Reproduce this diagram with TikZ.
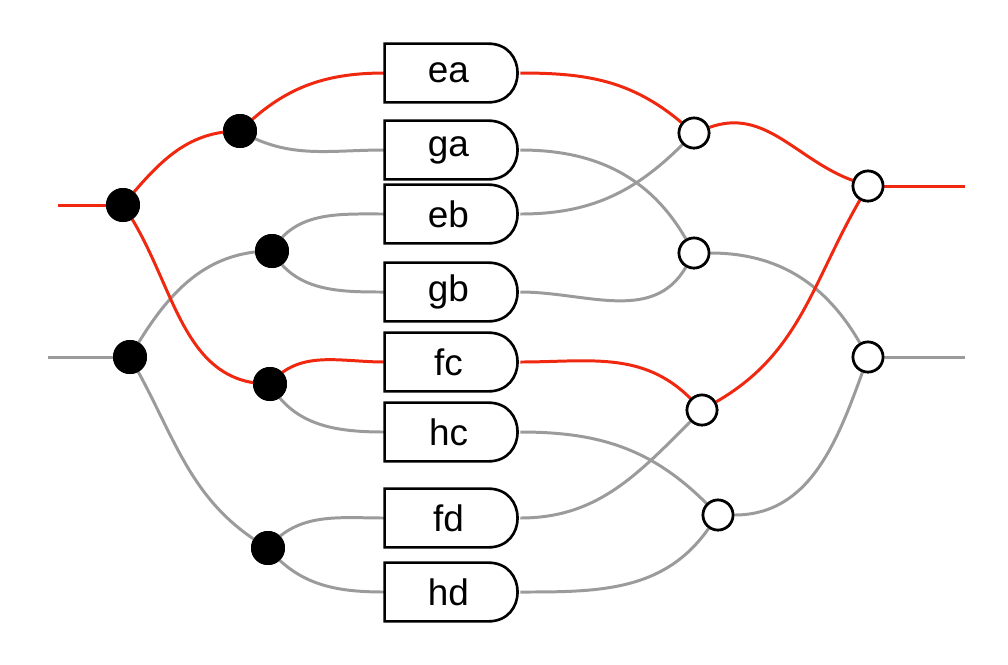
\documentclass[tikz,border=0pt]{standalone}
\usepackage{fontspec}
\setmainfont{Liberation Sans}
\definecolor{wred}{RGB}{240,40,16}
\definecolor{wgray}{RGB}{155,155,155}
\begin{document}
\begin{tikzpicture}[x=0.02cm,y=-0.02cm,
  gate/.style={minimum width=2.64cm,minimum height=1.16cm,inner sep=0pt},
  lbl/.style={font=\fontsize{21}{24}\selectfont},
  blk/.style={circle,fill=black,minimum size=0.68cm,inner sep=0pt},
  wht/.style={circle,draw=black,fill=white,line width=1.5pt,minimum size=0.6cm,inner sep=0pt},
  gw/.style={draw=wgray,line width=1.7pt},
  rw/.style={draw=wred,line width=1.7pt}]
\useasboundingbox (0,0) rectangle (1008,664);
\coordinate (inR) at (58,205); \coordinate (inG) at (48,357);
\coordinate (outR) at (965,186); \coordinate (outG) at (965,357);
\node[gate] (ea) at (451,73) {};
\node[gate] (ga) at (451,150) {};
\node[gate] (eb) at (451,214) {};
\node[gate] (gb) at (451,292) {};
\node[gate] (fc) at (451,362) {};
\node[gate] (hc) at (451,432) {};
\node[gate] (fd) at (451,518) {};
\node[gate] (hd) at (451,592) {};
\node[blk] (d1) at (123,205) {};
\node[blk] (d2) at (130,357) {};
\node[blk] (a1) at (240,131) {};
\node[blk] (a2) at (272,251) {};
\node[blk] (a3) at (270,384) {};
\node[blk] (a4) at (268,548) {};
% gray wires
\draw[gw] (inG) -- (d2.center);
\draw[gw] (d2.center) to[out=60,in=180] (a2.center);
\draw[gw] (d2.center) to[out=-60,in=150] (a4.center);
\draw[gw] (a1.center) to[out=-30,in=180] (ga.west);
\draw[gw] (a2.center) to[out=60,in=180] (eb.west);
\draw[gw] (a2.center) to[out=-60,in=180] (gb.west);
\draw[gw] (a3.center) to[out=-60,in=180] (hc.west);
\draw[gw] (a4.center) to[out=50,in=180] (fd.west);
\draw[gw] (a4.center) to[out=-50,in=180] (hd.west);
% red wires
\draw[rw] (inR) -- (d1.center);
\draw[rw] (d1.center) to[out=50,in=180] (a1.center);
\draw[rw] (d1.center) to[out=-55,in=180] (a3.center);
\draw[rw] (a1.center) to[out=45,in=180] (ea.west);
\draw[rw] (a3.center) to[out=50,in=180] (fc.west);
\foreach \d in {d1,d2,a1,a2,a3,a4} \node[blk] at (\d) {};
\foreach \n in {ea,ga,eb,gb,fc,hc,fd,hd}
  \draw[line width=1.5pt,fill=white] (\n.north west) -- ([xshift=-0.58cm]\n.north east)
    .. controls ([xshift=0.2cm]\n.north east) and ([xshift=0.2cm]\n.south east) .. ([xshift=-0.58cm]\n.south east)
    -- (\n.south west) -- cycle;
\foreach \n in {ea,ga,eb,gb,fc,hc,fd,hd}
  \node[lbl] at ([xshift=-0.05cm]\n.center) {\n};
\node[wht] (c1) at (694,133) {};
\node[wht] (c2) at (694,253) {};
\node[wht] (c3) at (702,410) {};
\node[wht] (c4) at (718,515) {};
\node[wht] (c5) at (868,186) {};
\node[wht] (c6) at (868,357) {};
\draw[gw] ([xshift=0.06cm]eb.east) to[out=0,in=225] (c1);
\draw[gw] ([xshift=0.06cm]ga.east) to[out=0,in=120] (c2);
\draw[gw] ([xshift=0.06cm]gb.east) to[out=0,in=240] (c2);
\draw[gw] ([xshift=0.06cm]fd.east) to[out=0,in=225] (c3);
\draw[gw] ([xshift=0.06cm]hc.east) to[out=0,in=135] (c4);
\draw[gw] ([xshift=0.06cm]hd.east) to[out=0,in=235] (c4);
\draw[gw] (c2) to[out=0,in=120] (c6);
\draw[gw] (c4) to[out=0,in=250] (c6);
\draw[gw] (c6) -- (outG);
\draw[rw] ([xshift=0.06cm]ea.east) to[out=0,in=140] (c1);
\draw[rw] ([xshift=0.06cm]fc.east) to[out=0,in=135] (c3);
\draw[rw] (c1) to[out=20,in=160] (c5);
\draw[rw] (c3) to[out=30,in=240] (c5);
\draw[rw] (c5) -- (outR);
\foreach \c in {c1,c2,c3,c4,c5,c6} \node[wht] at (\c) {};
\end{tikzpicture}
\end{document}
